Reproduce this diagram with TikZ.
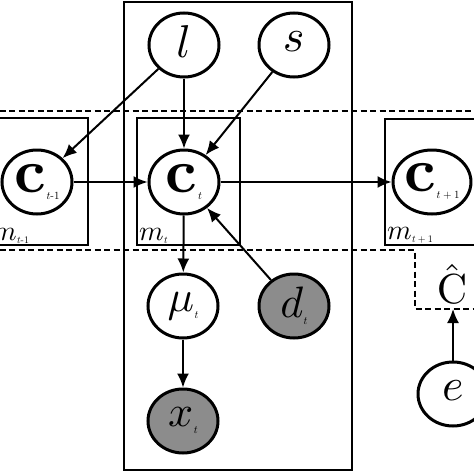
\documentclass[tikz,border=0pt]{standalone}
\usepackage{graphicx}
\usetikzlibrary{shapes.geometric,arrows.meta}
\newcommand{\vlab}[3]{\scalebox{#1}{$#2$}\kern0.5pt\raisebox{-7pt}{\scalebox{1.1}{$#3$}}}
\newcommand{\plab}[1]{\scalebox{2.8}{$m$}\kern0.3pt\raisebox{-3pt}{\scalebox{1}{$#1$}}}
\tikzset{
  rv/.style={ellipse,draw,line width=3pt,minimum width=70pt,minimum height=64pt,inner sep=0pt,fill=white},
  obs/.style={rv,fill=black!45},
  arr/.style={line width=2pt,-{Latex[length=14pt,width=12pt]}},
  plate/.style={draw,line width=1.8pt},
  ibox/.style={draw,line width=2.2pt},
  dsh/.style={line width=1.8pt,dash pattern=on 6pt off 3.5pt},
  plbl/.style={anchor=south west,inner sep=0pt}
}
\begin{document}
\begin{tikzpicture}[x=1pt,y=-1pt]
\useasboundingbox (0,0) rectangle (474,474);
\clip (0,0) rectangle (474,474);
% plate
\draw[plate] (124,2) rectangle (352,470);
% dashed region
\draw[dsh] (-10,111) -- (484,111);
\draw[dsh] (-10,250) -- (415,250) -- (415,309) -- (484,309);
% inner boxes
\draw[ibox] (-10,118) rectangle (88,245);
\draw[ibox] (137,118) rectangle (240,245);
\draw[ibox] (385,119) rectangle (484,245);
\node[plbl] (mtm) at (-8,244) {\plab{t\mbox{-}1}};
\node[plbl] (mt) at (139,244) {\plab{t}};
\node[plbl] (mtp) at (387,244) {\plab{t+1}};
% nodes
\node[rv] (l) at (184,45) {\vlab{4.6}{l}{}};
\node[rv] (s) at (294,45) {\vlab{4.6}{s}{}};
\node[rv] (cm) at (37,182) {\vlab{6.2}{\mathbf{c}}{t\mbox{-}1}};
\node[rv] (c) at (184,182) {\vlab{6.2}{\mathbf{c}}{t}};
\node[rv] (cp) at (432,182) {\vlab{6.2}{\mathbf{c}}{t+1}};
\node[rv] (mu) at (183,306) {\vlab{4.4}{\mu}{t}};
\node[obs] (d) at (294,306) {\vlab{4.4}{d}{t}};
\node[obs] (x) at (183,421) {\vlab{4.4}{x}{t}};
\node[rv] (e) at (453,394) {\vlab{4.6}{e}{}};
\node[inner sep=0pt] (ch) at (452,284) {\scalebox{4.2}{$\hat{\mathrm{C}}$}};
\coordinate (chb) at (453,309);
% edges
\draw[arr] (l) -- (cm);
\draw[arr] (l) -- (c);
\draw[arr] (s) -- (c);
\draw[arr] (cm) -- (c);
\draw[arr] (c) -- (cp);
\draw[arr] (d) -- (c);
\draw[arr] (c) -- (mu);
\draw[arr] (mu) -- (x);
\draw[arr] (e) -- (chb);
\end{tikzpicture}
\end{document}
